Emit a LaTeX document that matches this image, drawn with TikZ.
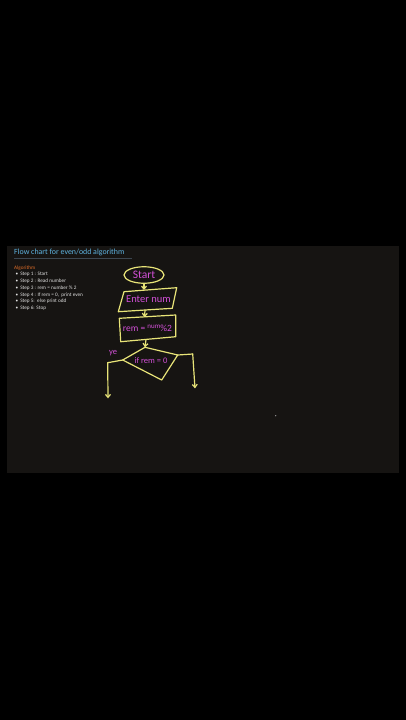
\documentclass[tikz,border=0pt]{standalone}
\usepackage{fontspec}
\setmainfont{Carlito}
\usetikzlibrary{arrows.meta,shapes.geometric}
\definecolor{slidebg}{RGB}{22,20,18}
\definecolor{titleblue}{RGB}{95,180,225}
\definecolor{orangeh}{RGB}{225,110,40}
\definecolor{chalk}{RGB}{232,228,120}
\definecolor{pink}{RGB}{210,80,215}
\definecolor{uline}{RGB}{60,70,80}
\begin{document}
\begin{tikzpicture}[x=1pt,y=-1pt,
  chalkline/.style={draw=chalk,line width=1.2pt,line join=round,line cap=round},
  flowarrow/.style={chalkline,-{Straight Barb[length=3pt,width=5pt]}},
  steptext/.style={anchor=west,inner sep=0pt,text=white!88!black,font=\fontsize{5.2}{6}\selectfont},
  handtext/.style={inner sep=0pt,text=pink,font=\fontsize{10.5}{11}\selectfont}]
\useasboundingbox (0,0) rectangle (406,720);
\fill[black] (0,0) rectangle (406,720);
\fill[slidebg] (7,246) rectangle (399,473);
% title
\node[anchor=west,inner sep=0pt,text=titleblue,font=\fontsize{7.9}{8}\selectfont] (title) at (14,252.6) {Flow chart for even/odd algorithm};
\coordinate (ul1) at (14,257.8);
\coordinate (ul2) at (132,257.8);
\draw[uline,line width=0.6pt] (ul1) -- (ul2);
% algorithm text
\node[anchor=west,inner sep=0pt,text=orangeh,font=\fontsize{5.2}{6}\selectfont] (alg) at (14,268) {Algorithm};
\node[steptext] (s1) at (15.5,274.7) {\textbullet\hspace{2pt}Step 1 : Start};
\node[steptext] (s2) at (15.5,281.4) {\textbullet\hspace{2pt}Step 2 : Read number};
\node[steptext] (s3) at (15.5,288.1) {\textbullet\hspace{2pt}Step 3 : rem = number \% 2};
\node[steptext] (s4) at (15.5,294.8) {\textbullet\hspace{2pt}Step 4 : If rem = 0,\ \ print even};
\node[steptext] (s5) at (15.5,301.5) {\textbullet\hspace{2pt}Step 5:\ \ else print odd};
\node[steptext] (s6) at (15.5,308.2) {\textbullet\hspace{2pt}Step 6: Stop};
% start
\node[ellipse,chalkline,minimum width=40pt,minimum height=16.5pt,inner sep=0pt,handtext,font=\fontsize{11.5}{12}\selectfont] (start) at (144,275) {Start};
% enter num
\coordinate (e1) at (124,291.7);
\coordinate (e2) at (176.7,287.7);
\coordinate (e3) at (172.3,308.3);
\coordinate (e4) at (118.3,311.7);
\draw[chalkline] (e1) -- (e2) -- (e3) -- (e4) -- cycle;
\node[handtext] (enter) at (148.5,299.5) {Enter num};
\coordinate (etop) at (144,290.0);
\coordinate (ebot) at (145,310.3);
% rem box
\coordinate (r1) at (119.3,318.3);
\coordinate (r2) at (175.7,315);
\coordinate (r3) at (175.7,336.7);
\coordinate (r4) at (120.7,341.7);
\draw[chalkline] (r1) -- (r2) -- (r3) -- (r4) -- cycle;
\node[handtext,font=\fontsize{9.5}{10}\selectfont] (remtext) at (147.5,328.5) {rem = \raisebox{3pt}{\fontsize{7}{8}\selectfont num}\%2};
\coordinate (rtop) at (144.5,317.2);
\coordinate (rbot) at (146,339.6);
% decision
\coordinate (d1) at (145,347.3);
\coordinate (d2) at (177.7,355);
\coordinate (d3) at (161.7,380);
\coordinate (d4) at (122.7,360);
\draw[chalkline] (d1) -- (d2) -- (d3) -- (d4) -- cycle;
\node[handtext,font=\fontsize{8.5}{9}\selectfont] (iftext) at (151,361) {if rem = 0};
% branches
\coordinate (lb) at (107.7,362.7);
\coordinate (lend) at (108,398.3);
\coordinate (rb) at (192.7,354);
\coordinate (rend) at (195,388.3);
\draw[chalkline] (d4) -- (lb);
\draw[flowarrow] (lb) -- (lend);
\draw[chalkline] (d2) -- (rb);
\draw[flowarrow] (rb) -- (rend);
\node[handtext,font=\fontsize{8.5}{9}\selectfont] (ye) at (113,353.5) {ye};
% arrows
\draw[flowarrow] (start.south) -- (etop);
\draw[flowarrow] (ebot) -- (rtop);
\draw[flowarrow] (rbot) -- (d1);
% dot
\fill[white!70!black] (275.7,415.7) circle (0.6pt);
\end{tikzpicture}
\end{document}
